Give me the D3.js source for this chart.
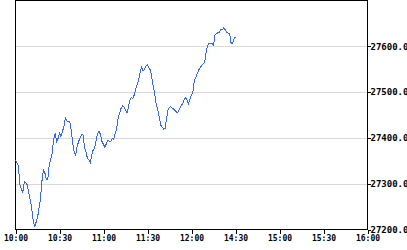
<!DOCTYPE html>
<html>
<head>
<meta charset="utf-8">
<script src="https://cdn.jsdelivr.net/npm/d3@7"></script>
<style>
  body { margin: 0; background: #fff; }
  svg { display: block; }
</style>
</head>
<body>
<div id="chart"></div>
<script>
// minutes since 10:00 on the chart's (lunch-compressed) time axis
var minutes = [0, 2, 3, 5, 6, 8, 10, 11, 12, 13, 15, 17, 18, 19, 20, 21, 22, 23, 25, 26,
  27, 28, 29, 30, 31, 33, 34, 35, 37, 38, 39, 40, 41, 42, 43, 45, 46, 47, 48, 49,
  50, 51, 52, 53, 54, 55, 56, 57, 58, 59, 61, 62, 63, 65, 66, 67, 68, 69, 70, 72,
  73, 74, 76, 77, 78, 79, 80, 81, 82, 84, 85, 86, 87, 88, 89, 90, 92, 93, 94, 95,
  96, 97, 98, 99, 101, 102, 103, 104, 105, 106, 107, 109, 110, 111, 112, 114, 115, 116, 117, 118,
  119, 121, 122, 123, 124, 125, 126, 127, 128, 129, 130, 131, 132, 134, 135, 136, 137, 139, 140, 141,
  142, 143, 144, 146, 147, 148, 149, 150]

var values = [27352, 27338, 27298, 27280, 27305, 27298, 27265, 27248, 27222, 27205, 27226, 27265, 27305, 27330, 27324, 27309, 27309, 27341, 27367, 27396,
  27410, 27392, 27399, 27410, 27403, 27425, 27443, 27437, 27435, 27417, 27388, 27370, 27363, 27381, 27392, 27407, 27408, 27381, 27370, 27356,
  27352, 27346, 27363, 27374, 27378, 27396, 27410, 27414, 27407, 27392, 27379, 27388, 27394, 27392, 27399, 27397, 27410, 27421, 27443, 27465,
  27470, 27468, 27454, 27468, 27483, 27488, 27486, 27494, 27508, 27526, 27544, 27554, 27546, 27550, 27557, 27559, 27548, 27530, 27512, 27494,
  27472, 27461, 27446, 27428, 27419, 27421, 27443, 27461, 27467, 27468, 27465, 27459, 27455, 27457, 27465, 27475, 27484, 27488, 27483, 27474,
  27486, 27501, 27526, 27532, 27541, 27549, 27553, 27559, 27562, 27566, 27588, 27602, 27606, 27606, 27602, 27624, 27628, 27631, 27636, 27636,
  27641, 27636, 27630, 27628, 27607, 27607, 27617, 27620]

var timeTicks = [0, 30, 60, 90, 120, 150, 180, 210, 240]
var timeLabels = ['10:00', '10:30', '11:00', '11:30', '12:00', '14:30', '15:00', '15:30', '16:00']
var priceTicks = [27200, 27300, 27400, 27500, 27600]

var width = 407, height = 250

var svg = d3.select('#chart')
    .append('svg')
    .attr('width', width)
    .attr('height', height)

var x = d3.scaleLinear().domain([0, 240]).range([15.5, 367.5])
var y = d3.scaleLinear().domain([27200, 27700]).range([229.5, 0.5])

// grid
svg.append('g')
    .selectAll('line')
    .data(priceTicks.slice(1))
    .enter()
    .append('line')
    .attr('x1', 15.5)
    .attr('x2', 367.5)
    .attr('y1', function(d) { return Math.round(y(d)) + 0.5 })
    .attr('y2', function(d) { return Math.round(y(d)) + 0.5 })
    .attr('stroke', '#d9d9d9')
    .attr('stroke-width', 1)

// frame
svg.append('rect')
    .attr('x', 15.5)
    .attr('y', 0.5)
    .attr('width', 352)
    .attr('height', 229)
    .attr('fill', 'none')
    .attr('stroke', '#000')
    .attr('shape-rendering', 'crispEdges')

// price line
var line = d3.line()
    .x(function(d, i) { return x(minutes[i]) })
    .y(function(d) { return y(d) })

svg.append('path')
    .datum(values)
    .attr('d', line)
    .attr('fill', 'none')
    .attr('stroke', '#3366ff')
    .attr('stroke-width', 1)
    .attr('shape-rendering', 'crispEdges')

// bottom axis
var xAxis = d3.axisBottom(x)
    .tickValues(timeTicks)
    .tickFormat(function(d, i) { return timeLabels[i] })
    .tickSize(4)
    .tickPadding(2)

var gx = svg.append('g')
    .attr('transform', 'translate(0,229.5)')
    .call(xAxis)
gx.select('.domain').remove()
gx.selectAll('line').attr('stroke', '#000').attr('shape-rendering', 'crispEdges')
gx.selectAll('text')
    .attr('fill', '#000')
    .style('font-family', 'DejaVu Sans Mono')
    .style('font-size', '8px')
    .style('font-weight', 'bold')

// right axis
var yAxis = d3.axisRight(y)
    .tickValues(priceTicks)
    .tickFormat(d3.format('.1f'))
    .tickSize(3)
    .tickPadding(0)

var gy = svg.append('g')
    .attr('transform', 'translate(367.5,0)')
    .call(yAxis)
gy.select('.domain').remove()
gy.selectAll('line').attr('stroke', '#000').attr('shape-rendering', 'crispEdges')
gy.selectAll('text')
    .attr('fill', '#000')
    .style('font-family', 'DejaVu Sans Mono')
    .style('font-size', '9px')
    .style('font-weight', 'bold')
</script>
</body>
</html>
